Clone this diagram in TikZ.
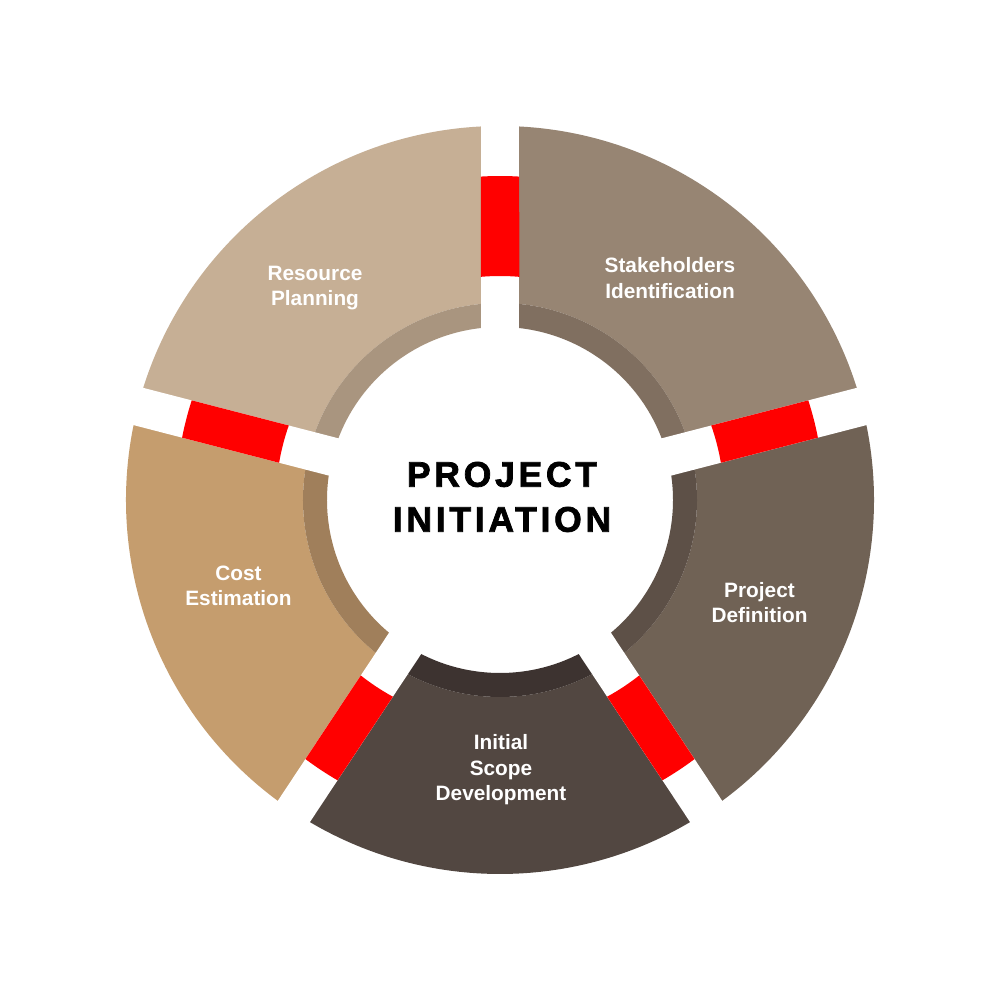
\documentclass[tikz,border=0pt]{standalone}
\usepackage{fontspec}
\setmainfont{Liberation Sans}
\newfontfamily\titlefont{Liberation Sans}[LetterSpace=10.5, FakeBold=2]
\definecolor{rpbody}{HTML}{C6AF95}
\definecolor{rpband}{HTML}{A9957F}
\definecolor{shbody}{HTML}{978573}
\definecolor{shband}{HTML}{806F60}
\definecolor{pdbody}{HTML}{706255}
\definecolor{pdband}{HTML}{5D5047}
\definecolor{isbody}{HTML}{524741}
\definecolor{isband}{HTML}{3D3330}
\definecolor{cebody}{HTML}{C59D6E}
\definecolor{ceband}{HTML}{A07F5B}
\definecolor{gapred}{HTML}{FF0000}
\newcommand{\ringsector}[4]{(#1:#4) arc[start angle=#1, end angle=#2, radius=#4] -- (#2:#3) arc[start angle=#2, end angle=#1, radius=#3] -- cycle}
\tikzset{
  lbl/.style={text=white, font=\fontsize{20.8}{25}\selectfont\bfseries, anchor=base, inner sep=0pt},
  ttl/.style={text=black, font=\titlefont\fontsize{35.5}{45}\selectfont\bfseries, anchor=base, inner sep=0pt},
  gapstrip/.style={fill=white},
  gapmark/.style={fill=gapred}
}
\begin{document}
\begin{tikzpicture}[x=1pt,y=1pt]
\useasboundingbox (-500,-500) rectangle (500,500);
\fill[white] (-500,-500) rectangle (500,500);
% segments: body and inner band
\fill[shbody] \ringsector{14.5}{90}{197}{374};
\fill[shband] \ringsector{14.5}{90}{173}{197};
\fill[rpbody] \ringsector{90}{165.5}{197}{374};
\fill[rpband] \ringsector{90}{165.5}{173}{197};
\fill[cebody] \ringsector{165.5}{236.5}{197}{374};
\fill[ceband] \ringsector{165.5}{236.5}{173}{197};
\fill[isbody] \ringsector{236.5}{303.5}{197}{374};
\fill[isband] \ringsector{236.5}{303.5}{173}{197};
\fill[pdbody] \ringsector{303.5}{374.5}{197}{374};
\fill[pdband] \ringsector{303.5}{374.5}{173}{197};
% gaps with red markers
\foreach \g in {90,14.5,-56.5,-123.5,165.5}{
  \fill[gapstrip, rotate=\g] (0,-19.25) rectangle (400,19.25);
  \fill[gapmark, rotate=\g] (-4.93:224) arc[start angle=-4.93, end angle=4.93, radius=224] -- (3.406:324) arc[start angle=3.406, end angle=-3.406, radius=324] -- cycle;
}
% labels
\node[lbl] (rp1) at (-185,219) {Resource};
\node[lbl] (rp2) at (-185,194) {Planning};
\node[lbl] (sh1) at (170,227) {Stakeholders};
\node[lbl] (sh2) at (170,201.5) {Identification};
\node[lbl] (pd1) at (259.5,-98) {Project};
\node[lbl] (pd2) at (259.5,-122.7) {Definition};
\node[lbl] (ce1) at (-261.5,-81) {Cost};
\node[lbl] (ce2) at (-261.5,-105.7) {Estimation};
\node[lbl] (is1) at (1,-249) {Initial};
\node[lbl] (is2) at (1,-275) {Scope};
\node[lbl] (is3) at (1,-300) {Development};
\node[ttl] (t1) at (2,13.3) {PROJECT};
\node[ttl] (t2) at (2,-31.7) {INITIATION};
\end{tikzpicture}
\end{document}
